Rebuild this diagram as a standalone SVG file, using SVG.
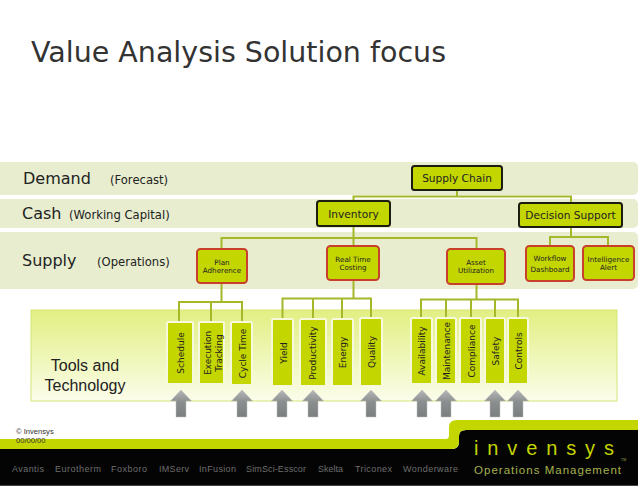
<svg xmlns="http://www.w3.org/2000/svg" width="638" height="493" viewBox="0 0 638 493">
<style>
text{font-family:"DejaVu Sans",Verdana,sans-serif;fill:#222}
.band{fill:#e8edcf}
.head{font-size:16px}
.sub{font-size:11.600px}
.top rect{fill:#c4d600;stroke:#1c1c10;stroke-width:2}
.mid rect{fill:#c4d600;stroke:#c8402c;stroke-width:2}
.top text{font-size:10.600px;text-anchor:middle}
.mid text{font-size:7.200px;text-anchor:middle}
.bar rect{fill:#c4d600;stroke:#f6f9dc;stroke-width:2}
.bar text{font-size:9px;text-anchor:middle}
#connectors path{fill:none;stroke:#a6b82a;stroke-width:2}
.up{fill:url(#ag);stroke:#b8bcb8;stroke-width:.5}
.brand{font-family:"Liberation Sans",Arial,sans-serif;font-size:9px;fill:#6e6e6e}
.arial{font-family:"Liberation Sans",Arial,sans-serif}
</style>
<defs>
<linearGradient id="pg" x1="0" y1="0" x2="0" y2="1"><stop offset="0" stop-color="#e2ef82"/><stop offset="1" stop-color="#fbfdea"/></linearGradient>
<linearGradient id="ag" x1="0" y1="0" x2="0" y2="1"><stop offset="0" stop-color="#b4b7b6"/><stop offset=".45" stop-color="#8b8e8e"/><stop offset="1" stop-color="#7c7f80"/></linearGradient>
<path id="up" d="M0 0L10.500 11H5V27H-5V11H-10.500Z"/>
</defs>
<rect width="638" height="493" fill="#fff"/>
<text x="31" y="62" font-size="28.500" style="fill:#333">Value Analysis Solution focus</text>

<rect class="band" x="-4" y="162" width="642" height="33" rx="5"/>
<rect class="band" x="-4" y="199" width="642" height="29" rx="5"/>
<rect class="band" x="-4" y="232" width="642" height="57" rx="5"/>
<text class="head" x="23" y="184">Demand</text><text class="sub" x="110" y="184">(Forecast)</text>
<text class="head" x="22" y="219">Cash</text><text class="sub" x="69" y="219">(Working Capital)</text>
<text class="head" x="22" y="266">Supply</text><text class="sub" x="97" y="266">(Operations)</text>

<rect x="31" y="310" width="586" height="91" fill="url(#pg)" stroke="#d6e476" stroke-width="1"/>

<g id="connectors">
<path d="M457 190V196.500M353.500 201V196.500H571V203"/>
<path d="M353.500 226V246M221.500 249V238H476.500V249"/>
<path d="M571 227V237M550 246V237H608V246"/>
<path d="M221.500 283V302M179 321V302H242V321M211 302V321"/>
<path d="M353.500 280V298.500M282.500 318V298.500H371V318M313 298.500V318M342 298.500V318"/>
<path d="M476.500 284V299.500M421 318V299.500H518V318M446 299.500V318M471 299.500V318M495 299.500V318"/>
</g>

<g id="n-supply-chain" class="top"><rect x="412" y="166" width="90" height="24" rx="2.500"/><text x="457" y="182">Supply Chain</text></g>
<g id="n-inventory" class="top"><rect x="317" y="201" width="73" height="25" rx="2.500"/><text x="353.500" y="218">Inventory</text></g>
<g id="n-decision" class="top"><rect x="519" y="203" width="103" height="24" rx="2.500"/><text x="570.500" y="219">Decision Support</text></g>

<g id="n-plan" class="mid"><rect x="197" y="249" width="50" height="34" rx="3.500"/><text x="222" y="264.500">Plan</text><text x="222" y="272.500">Adherence</text></g>
<g id="n-realtime" class="mid"><rect x="327" y="246" width="52" height="34" rx="3.500"/><text x="353" y="261.500">Real Time</text><text x="353" y="269.500">Costing</text></g>
<g id="n-asset" class="mid"><rect x="447" y="249" width="58" height="35" rx="3.500"/><text x="476" y="265">Asset</text><text x="476" y="273">Utilization</text></g>
<g id="n-workflow" class="mid"><rect x="526" y="246" width="48" height="35" rx="3.500"/><text x="550" y="261">Workflow</text><text x="550" y="272">Dashboard</text></g>
<g id="n-intelligence" class="mid"><rect x="583" y="246" width="51" height="34" rx="3.500"/><text x="608.500" y="262">Intelligence</text><text x="608.500" y="270">Alert</text></g>

<g id="n-schedule" class="bar"><rect x="167" y="322" width="26" height="62" rx="1.500"/><text transform="translate(183.500 353) rotate(-90)">Schedule</text></g>
<g id="n-execution" class="bar"><rect x="199" y="322" width="25" height="62" rx="1.500"/><text transform="translate(210.500 353) rotate(-90)">Execution</text><text transform="translate(221.500 353) rotate(-90)">Tracking</text></g>
<g id="n-cycle" class="bar"><rect x="231" y="322" width="21" height="63" rx="1.500"/><text transform="translate(245.500 353.500) rotate(-90)">Cycle Time</text></g>
<g id="n-yield" class="bar"><rect x="272" y="319" width="21" height="67" rx="1.500"/><text transform="translate(286.500 353) rotate(-90)">Yield</text></g>
<g id="n-productivity" class="bar"><rect x="300" y="319" width="26" height="67" rx="1.500"/><text transform="translate(315.500 353) rotate(-90)">Productivity</text></g>
<g id="n-energy" class="bar"><rect x="332" y="319" width="21" height="67" rx="1.500"/><text transform="translate(345.500 352.500) rotate(-90)">Energy</text></g>
<g id="n-quality" class="bar"><rect x="360" y="318" width="22" height="68" rx="1.500"/><text transform="translate(374.500 352) rotate(-90)">Quality</text></g>
<g id="n-availability" class="bar"><rect x="411" y="318" width="21" height="66" rx="1.500"/><text transform="translate(424.500 351) rotate(-90)">Availability</text></g>
<g id="n-maintenance" class="bar"><rect x="436" y="318" width="20" height="66" rx="1.500"/><text transform="translate(449.500 351) rotate(-90)">Maintenance</text></g>
<g id="n-compliance" class="bar"><rect x="460" y="318" width="21" height="66" rx="1.500"/><text transform="translate(474.500 351) rotate(-90)">Compliance</text></g>
<g id="n-safety" class="bar"><rect x="485" y="318" width="20" height="66" rx="1.500"/><text transform="translate(498.500 351) rotate(-90)">Safety</text></g>
<g id="n-controls" class="bar"><rect x="508" y="318" width="20" height="66" rx="1.500"/><text transform="translate(521.500 351) rotate(-90)">Controls</text></g>

<text class="arial" x="85" y="371" font-size="16" text-anchor="middle">Tools and</text>
<text class="arial" x="85" y="391" font-size="16" text-anchor="middle">Technology</text>

<g id="arrows">
<use href="#up" class="up" x="181" y="390"/><use href="#up" class="up" x="242" y="390"/><use href="#up" class="up" x="282" y="390"/><use href="#up" class="up" x="313" y="390"/><use href="#up" class="up" x="371" y="390"/><use href="#up" class="up" x="422" y="390"/><use href="#up" class="up" x="446" y="390"/><use href="#up" class="up" x="495" y="390"/><use href="#up" class="up" x="518" y="390"/>
</g>

<path d="M0 449H452Q459 449 459 442V436Q459 430 466 430H638V485H0Z" fill="#040404"/>
<path d="M0 439H446Q449 439 449 435V427Q449 420 457 420H638V430H466Q459 430 459 436V442Q459 449 452 449H0Z" fill="#c4d600"/>
<rect y="485" width="638" height="1" fill="#444"/>
<text class="arial" x="16" y="434" font-size="7.600" style="fill:#333">© Invensys</text>
<text class="arial" x="16" y="443" font-size="7.600" style="fill:#333">00/00/00</text>
<text class="brand" x="12" y="471.500" textLength="32">Avantis</text>
<text class="brand" x="55" y="471.500" textLength="46">Eurotherm</text>
<text class="brand" x="111" y="471.500" textLength="36">Foxboro</text>
<text class="brand" x="159" y="471.500" textLength="30">IMServ</text>
<text class="brand" x="199" y="471.500" textLength="37">InFusion</text>
<text class="brand" x="246" y="471.500" textLength="60">SimSci-Esscor</text>
<text class="brand" x="318" y="471.500" textLength="25">Skelta</text>
<text class="brand" x="355" y="471.500" textLength="37">Triconex</text>
<text class="brand" x="403" y="471.500" textLength="55">Wonderware</text>
<text class="arial" x="474" y="455" font-size="20" textLength="140" style="fill:#c4d600">invensys</text>
<text class="arial" x="621" y="461" font-size="3.500" style="fill:#9aa84a">TM</text>
<text class="arial" x="474" y="473.500" font-size="11.500" textLength="147" style="fill:#a4b24e">Operations Management</text>
</svg>
